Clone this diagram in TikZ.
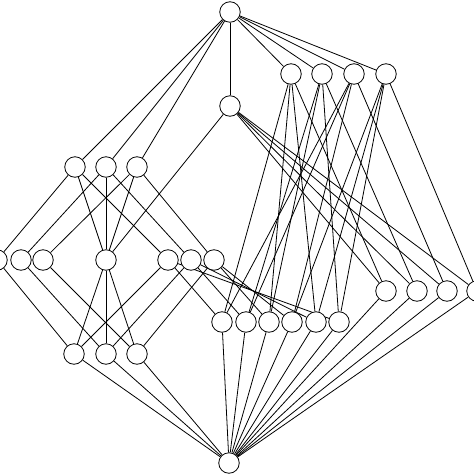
\documentclass[tikz,border=0pt]{standalone}
\usetikzlibrary{backgrounds}

\begin{document}
\begin{tikzpicture}[x=1pt, y=-1pt,
    vert/.style={draw, circle, fill=white, line width=0.8pt, minimum size=20.5pt, inner sep=0pt},
    link/.style={line width=0.8pt}]
  \useasboundingbox (0,0) rectangle (474,474);
  \clip (0,0) rectangle (474,474);

  % Whole group and trivial group
  \node[vert] (top) at (230,12) {};
  \node[vert] (bot) at (229,463) {};

  % Alternating subgroup
  \node[vert] (alt) at (230,106) {};

  % Order 6 and order 8
  \foreach \x [count=\i] in {291,322,354,386}
    \node[vert] (sym\i) at (\x,74) {};
  \foreach \x [count=\i] in {75,106,137}
    \node[vert] (dih\i) at (\x,167) {};

  % Order 4: cyclic, normal Klein, other Klein
  \foreach \x [count=\i] in {-3,21,43}
    \node[vert] (cyc\i) at (\x,260) {};
  \node[vert] (klein) at (106,260) {};
  \foreach \x [count=\i] in {168,191,214}
    \node[vert] (vfour\i) at (\x,260) {};

  % Order 3 and order 2
  \foreach \x [count=\i] in {386,417,447,477}
    \node[vert] (three\i) at (\x,291) {};
  \foreach \x [count=\i] in {74,106,137}
    \node[vert] (dbl\i) at (\x,354) {};
  \foreach \x [count=\i] in {222,246,269,292,316,339}
    \node[vert] (tr\i) at (\x,322) {};

  \begin{scope}[on background layer]
    % Below the top
    \foreach \i in {1,2,3} \draw[link] (top) -- (dih\i);
    \foreach \i in {1,...,4} \draw[link] (top) -- (sym\i);
    \draw[link] (top) -- (alt);

    % Below the alternating subgroup
    \draw[link] (alt) -- (klein);
    \foreach \i in {1,...,4} \draw[link] (alt) -- (three\i);

    % Dihedral blocks
    \foreach \i in {1,2,3} {
      \draw[link] (dih\i) -- (cyc\i);
      \draw[link] (dih\i) -- (klein);
      \draw[link] (dih\i) -- (vfour\i);
      \draw[link] (cyc\i) -- (dbl\i);
      \draw[link] (klein) -- (dbl\i);
      \draw[link] (vfour\i) -- (dbl\i);
    }

    % S3 blocks
    \foreach \i in {1,...,4} \draw[link] (sym\i) -- (three\i);
    \foreach \s/\t in {1/1,1/3,1/5,2/2,2/3,2/6,3/1,3/2,3/4,4/4,4/5,4/6}
      \draw[link] (sym\s) -- (tr\t);
    \foreach \k/\t in {1/1,1/6,2/2,2/5,3/3,3/4}
      \draw[link] (vfour\k) -- (tr\t);

    % Atoms to the bottom
    \foreach \i in {1,2,3} \draw[link] (dbl\i) -- (bot);
    \foreach \i in {1,...,6} \draw[link] (tr\i) -- (bot);
    \foreach \i in {1,...,4} \draw[link] (three\i) -- (bot);
  \end{scope}
\end{tikzpicture}
\end{document}
